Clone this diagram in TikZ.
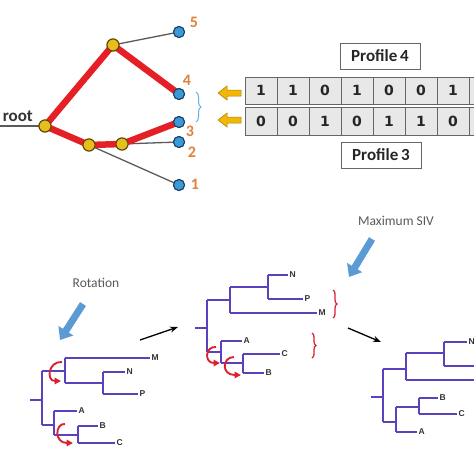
\documentclass[tikz,border=0pt]{standalone}
\usepackage{fontspec}
\setmainfont{Carlito}
\newfontfamily\dejav{DejaVu Sans}
\newfontfamily\arialf{Liberation Sans}
\usetikzlibrary{arrows.meta,decorations.pathreplacing}
\definecolor{redE}{HTML}{E41F26}
\definecolor{grayE}{HTML}{5A5A5A}
\definecolor{goldN}{HTML}{E8BE1E}
\definecolor{goldB}{HTML}{5C4A00}
\definecolor{blueN}{HTML}{3A9AD9}
\definecolor{blueB}{HTML}{1C3D5E}
\definecolor{orangeT}{HTML}{E0823A}
\definecolor{purpT}{HTML}{5C40BC}
\definecolor{blueA}{HTML}{5B9BD5}
\definecolor{yellA}{HTML}{F2B705}
\definecolor{cellF}{HTML}{E8E8E8}
\definecolor{redR}{HTML}{DA2233}
\tikzset{
  rededge/.style={line width=6.5pt,redE},
  grayedge/.style={line width=1.3pt,grayE},
  ynode/.style={circle,fill=goldN,draw=goldB,line width=1pt,minimum size=12pt,inner sep=0pt},
  bnode/.style={circle,fill=blueN,draw=blueB,line width=1pt,minimum size=11pt,inner sep=0pt},
  numlab/.style={text=orangeT,font=\fontsize{16}{18}\selectfont\bfseries,inner sep=0pt},
  cellbox/.style={rectangle,draw=gray!80!black,line width=0.8pt,fill=cellF,minimum width=32pt,inner sep=0pt,font=\dejav\bfseries\fontsize{14}{16}\selectfont,text=black!85},
  profbox/.style={rectangle,draw=gray!80!black,line width=0.9pt,fill=white,minimum width=80pt,minimum height=26pt,inner sep=0pt,font=\fontsize{17}{19}\selectfont\bfseries,text=black!85},
  treeline/.style={purpT,line width=1.6pt},
  tlab/.style={font=\arialf\bfseries\fontsize{8.5}{10}\selectfont,text=black!80,inner sep=1.5pt,anchor=west},
  bluearrow/.style={blueA,line width=7pt,-{Triangle[width=17pt,length=11pt]}},
  blackarrow/.style={black,line width=1.3pt,-{Stealth[length=8pt,width=6pt]}},
  rotarrow/.style={redR,line width=1.9pt,-{Triangle[length=6.5pt,width=6.5pt]}},
  redbrace/.style={redR,line width=1.3pt,decorate,decoration={brace,amplitude=4pt}},
  yarrow/.style={fill=yellA,draw=yellA!70!black,line width=0.5pt},
  captext/.style={text=black!65,font=\fontsize{13.5}{15}\selectfont,inner sep=0pt}
}
\begin{document}
\begin{tikzpicture}[x=1pt,y=-1pt]
\useasboundingbox (0,0) rectangle (474,474);
\clip (0,0) rectangle (474,474);
\fill[white] (0,0) rectangle (474,474);
% ---------- top tree ----------
\coordinate (stub) at (-2,126);
\node[ynode] (rt) at (45,126) {};
\node[ynode] (na) at (113,45) {};
\node[ynode] (nb) at (89,145) {};
\node[ynode] (nc) at (122,144) {};
\node[bnode] (l5) at (179,32) {};
\node[bnode] (l4) at (179,94) {};
\node[bnode] (l3) at (179,122) {};
\node[bnode] (l2) at (179,142) {};
\node[bnode] (l1) at (179,185) {};
\draw[grayedge] (stub) -- (rt.center);
\draw[grayedge] (na.center) -- (l5.center);
\draw[grayedge] (nc.center) -- (l2.center);
\draw[grayedge] (nb.center) -- (l1.center);
\draw[rededge] (rt.center) -- (na.center) -- (l4.center);
\draw[rededge,line join=round] (rt.center) -- (nb.center) -- (nc.center) -- (l3.center);
% redraw nodes on top
\foreach \p in {{45,126},{113,45},{89,145},{122,144}}{\node[ynode] at (\p) {};}
\foreach \p in {{179,32},{179,94},{179,122},{179,142},{179,185}}{\node[bnode] at (\p) {};}
\node[anchor=east,inner sep=0pt,font=\fontsize{17}{19}\selectfont\bfseries,text=black!80] (rootlab) at (33,116) {root};
\node[numlab] (t5) at (194,22) {5};
\node[numlab] (t4) at (187,80) {4};
\node[numlab] (t3) at (190,131) {3};
\node[numlab] (t2) at (192,152) {2};
\node[numlab] (t1) at (195,184) {1};
\draw[decorate,decoration={brace,amplitude=5pt},line width=1pt,blueN!80!white] (196,92) -- (196,122);
% yellow arrows
\fill[yarrow] (218,93) -- (227,86) -- (227,90) -- (241,90) -- (241,96) -- (227,96) -- (227,100) -- cycle;
\fill[yarrow] (218,120) -- (227,113) -- (227,117) -- (241,117) -- (241,123) -- (227,123) -- (227,127) -- cycle;
% table
\foreach \v [count=\i from 0] in {1,1,0,1,0,0,1,{}}{
  \node[cellbox,minimum height=27pt] (r1c\i) at (261+32*\i,90.5) {\v};
}
\foreach \v [count=\i from 0] in {0,0,1,0,1,1,0,{}}{
  \node[cellbox,minimum height=28pt] (r2c\i) at (261+32*\i,121) {\v};
}
\node[profbox] (p4) at (380,56) {Profile\,4};
\node[profbox] (p3) at (381,155) {Profile\,3};
% ---------- bottom ----------
\node[captext] (rot) at (96,283) {Rotation};
\node[captext] (msiv) at (396,221) {Maximum SIV};
\coordinate (ba1s) at (83,304); \coordinate (ba1e) at (60,340);
\draw[bluearrow] (ba1s) -- (ba1e);
\coordinate (ba2s) at (372,239); \coordinate (ba2e) at (349,277);
\draw[bluearrow] (ba2s) -- (ba2e);
\coordinate (k1s) at (140,340); \coordinate (k1e) at (178,327);
\draw[blackarrow] (k1s) -- (k1e);
\coordinate (k2s) at (348,328); \coordinate (k2e) at (381,342);
\draw[blackarrow] (k2s) -- (k2e);
% tree 1
\draw[treeline] (30,400) -- (42,400);
\draw[treeline] (42,371) -- (42,425);
\draw[treeline] (42,371) -- (65,371);
\draw[treeline] (65,358) -- (65,383);
\draw[treeline] (65,358) -- (150,358);
\draw[treeline] (65,383) -- (103,383);
\draw[treeline] (103,372) -- (103,394);
\draw[treeline] (103,372) -- (125,372);
\draw[treeline] (103,394) -- (138,394);
\draw[treeline] (42,425) -- (54,425);
\draw[treeline] (54,411) -- (54,435);
\draw[treeline] (54,411) -- (77,411);
\draw[treeline] (54,435) -- (78,435);
\draw[treeline] (78,426) -- (78,443);
\draw[treeline] (78,426) -- (98,426);
\draw[treeline] (78,443) -- (115,443);
\node[tlab] (m1) at (150,358) {M};
\node[tlab] (n1) at (125,372) {N};
\node[tlab] (p1) at (138,394) {P};
\node[tlab] (a1) at (77,411) {A};
\node[tlab] (b1) at (98,426) {B};
\node[tlab] (c1) at (115,443) {C};
\draw[rotarrow] (62,362) .. controls (48,361) and (46,381) .. (61,381);
\draw[rotarrow] (65,424) .. controls (55,423) and (54,443) .. (73,443);
% tree 2
\draw[treeline] (195,328) -- (207,328);
\draw[treeline] (207,300) -- (207,352);
\draw[treeline] (207,300) -- (230,300);
\draw[treeline] (230,287) -- (230,313);
\draw[treeline] (230,287) -- (268,287);
\draw[treeline] (268,275) -- (268,299);
\draw[treeline] (268,275) -- (288,275);
\draw[treeline] (268,299) -- (303,299);
\draw[treeline] (230,313) -- (317,313);
\draw[treeline] (207,352) -- (221,352);
\draw[treeline] (221,341) -- (221,363);
\draw[treeline] (221,341) -- (242,341);
\draw[treeline] (221,363) -- (243,363);
\draw[treeline] (243,354) -- (243,373);
\draw[treeline] (243,354) -- (280,354);
\draw[treeline] (243,373) -- (264,373);
\node[tlab] (n2) at (288,275) {N};
\node[tlab] (p2) at (303,299) {P};
\node[tlab] (m2) at (317,313) {M};
\node[tlab] (a2) at (242,341) {A};
\node[tlab] (c2) at (280,354) {C};
\node[tlab] (b2) at (264,373) {B};
\draw[rotarrow] (216,347) .. controls (205,346) and (204,363) .. (220,363);
\draw[rotarrow] (234,357) .. controls (222,357) and (221,375) .. (241,375);
\draw[redbrace] (333,290) -- (333,318);
\draw[redbrace] (312,333) -- (312,358);
% tree 3
\draw[treeline] (371,397) -- (383,397);
\draw[treeline] (383,369) -- (383,422);
\draw[treeline] (383,369) -- (406,369);
\draw[treeline] (406,353) -- (406,380);
\draw[treeline] (406,353) -- (444,353);
\draw[treeline] (444,342) -- (444,366);
\draw[treeline] (444,342) -- (467,342);
\draw[treeline] (444,366) -- (480,366);
\draw[treeline] (406,380) -- (480,380);
\draw[treeline] (383,422) -- (396,422);
\draw[treeline] (396,407) -- (396,432);
\draw[treeline] (396,407) -- (419,407);
\draw[treeline] (419,398) -- (419,414);
\draw[treeline] (419,398) -- (438,398);
\draw[treeline] (419,414) -- (457,414);
\draw[treeline] (396,432) -- (417,432);
\node[tlab] (n3) at (467,342) {N};
\node[tlab] (b3) at (438,398) {B};
\node[tlab] (c3) at (457,414) {C};
\node[tlab] (a3) at (417,432) {A};
\end{tikzpicture}
\end{document}
